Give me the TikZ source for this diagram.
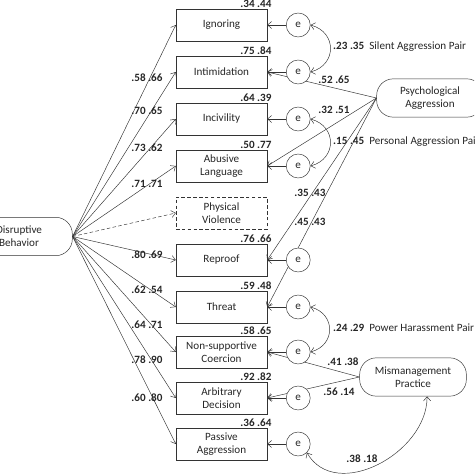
\documentclass[tikz,border=0pt]{standalone}
\usepackage{fontspec}
\setmainfont{Carlito}
\usetikzlibrary{calc, arrows.meta}

\begin{document}
\begin{tikzpicture}[x=0.3mm, y=0.3mm, >={Straight Barb[length=3.5pt, width=6pt]}, black!80, text=black!85]
	\tikzset{item/.style = {shape=rectangle, draw, minimum width=2.73cm, minimum height=0.96cm, align=center, inner sep=1pt, font=\fontsize{9.5}{11}\selectfont}}
	\tikzset{err/.style = {shape=circle, draw, fill=white, minimum size=0.72cm, inner sep=0pt, font=\fontsize{9.5}{11}\selectfont}}
	\tikzset{latent/.style = {shape=rectangle, rounded corners=5mm, draw, fill=white, minimum width=3.2cm, minimum height=1.15cm, align=center, font=\fontsize{9.5}{11}\selectfont}}
	\tikzset{coef/.style = {inner sep=0.5pt, font=\bfseries\fontsize{9.5}{11}\selectfont}}
	\tikzset{pairtext/.style = {anchor=west, inner sep=0pt, font=\fontsize{9.5}{11}\selectfont}}
	\useasboundingbox (0,-474) rectangle (474,0);
	\clip (0,-474) rectangle (474,0);
	% factors
	\node[latent] (db) at (19,-236.5) {Disruptive\\Behavior};
	\node[latent] (pa) at (430,-98) {Psychological\\Aggression};
	\node[latent] (mp) at (413,-377) {Mismanagement\\Practice};
	% indicators with loadings
	\foreach \nm/\txt/\y/\ld/\ly/\rs in {ign/Ignoring/25/.58 .66/78/.34 .44, int/Intimidation/72/.70 .65/111/.75 .84, inc/Incivility/119/.73 .62/148/.64 .39, abu/Abusive\\Language/166/.71 .71/184/.50 .77, rep/Reproof/260/.80 .69/255/.76 .66, thr/Threat/307/.62 .54/290/.59 .48, nsc/Non-supportive\\Coercion/352/.64 .71/325/.58 .65, arb/Arbitrary\\Decision/398/.78 .90/360/.92 .82, pas/Passive\\Aggression/444/.60 .80/398/.36 .64}{
		\node[item] (\nm) at (221.5,-\y) {\txt};
		\draw[->] (db.east) -- (\nm.west);
		\node[coef] at (147,-\ly) {\ld};
		\node[coef, anchor=south east] at ([xshift=1.5mm]\nm.north east) {\rs};
	}
	\node[item, densely dashed] (phy) at (221.5,-213) {Physical\\Violence};
	\draw[->, densely dashed] (db.east) -- (phy.west);
	% method factors
	\foreach \nm in {int, abu, rep, thr}{
		\draw[->] (pa.west) -- (\nm.east);
	}
	\foreach \nm in {nsc, arb}{
		\draw[->] (mp.west) -- (\nm.east);
	}
	\node[coef] at (334,-80) {.52 .65};
	\node[coef] at (334,-110) {.32 .51};
	\node[coef] at (310,-193) {.35 .43};
	\node[coef] at (310,-222) {.45 .43};
	\node[coef] at (343,-362) {.41 .38};
	\node[coef] at (339,-392) {.56 .14};
	% errors
	\foreach \nm in {ign, int, inc, abu, rep, thr, nsc, arb, pas}{
		\node[err] (e\nm) at ($(\nm.east)+(31,0)$) {e};
		\draw[->] (e\nm) -- (\nm);
	}
	% correlated errors
	\draw[<->] (eign.east) to[out=-15, in=15, looseness=1.5] (eint.east);
	\node[pairtext] at (333,-47) {\textbf{.23 .35}~~Silent Aggression Pair};
	\draw[<->] (einc.east) to[out=-15, in=15, looseness=1.5] (eabu.east);
	\node[pairtext] at (333,-142) {\textbf{.15 .45}~~Personal Aggression Pair};
	\draw[<->] (ethr.east) to[out=-15, in=15, looseness=1.5] (ensc.east);
	\node[pairtext] at (333,-328) {\textbf{.24 .29}~~Power Harassment Pair};
	\draw[<->] (epas.south east) to[out=-60, in=-90, looseness=1.1] (mp.-54);
	\node[coef] at (362,-459) {.38 .18};
\end{tikzpicture}
\end{document}
